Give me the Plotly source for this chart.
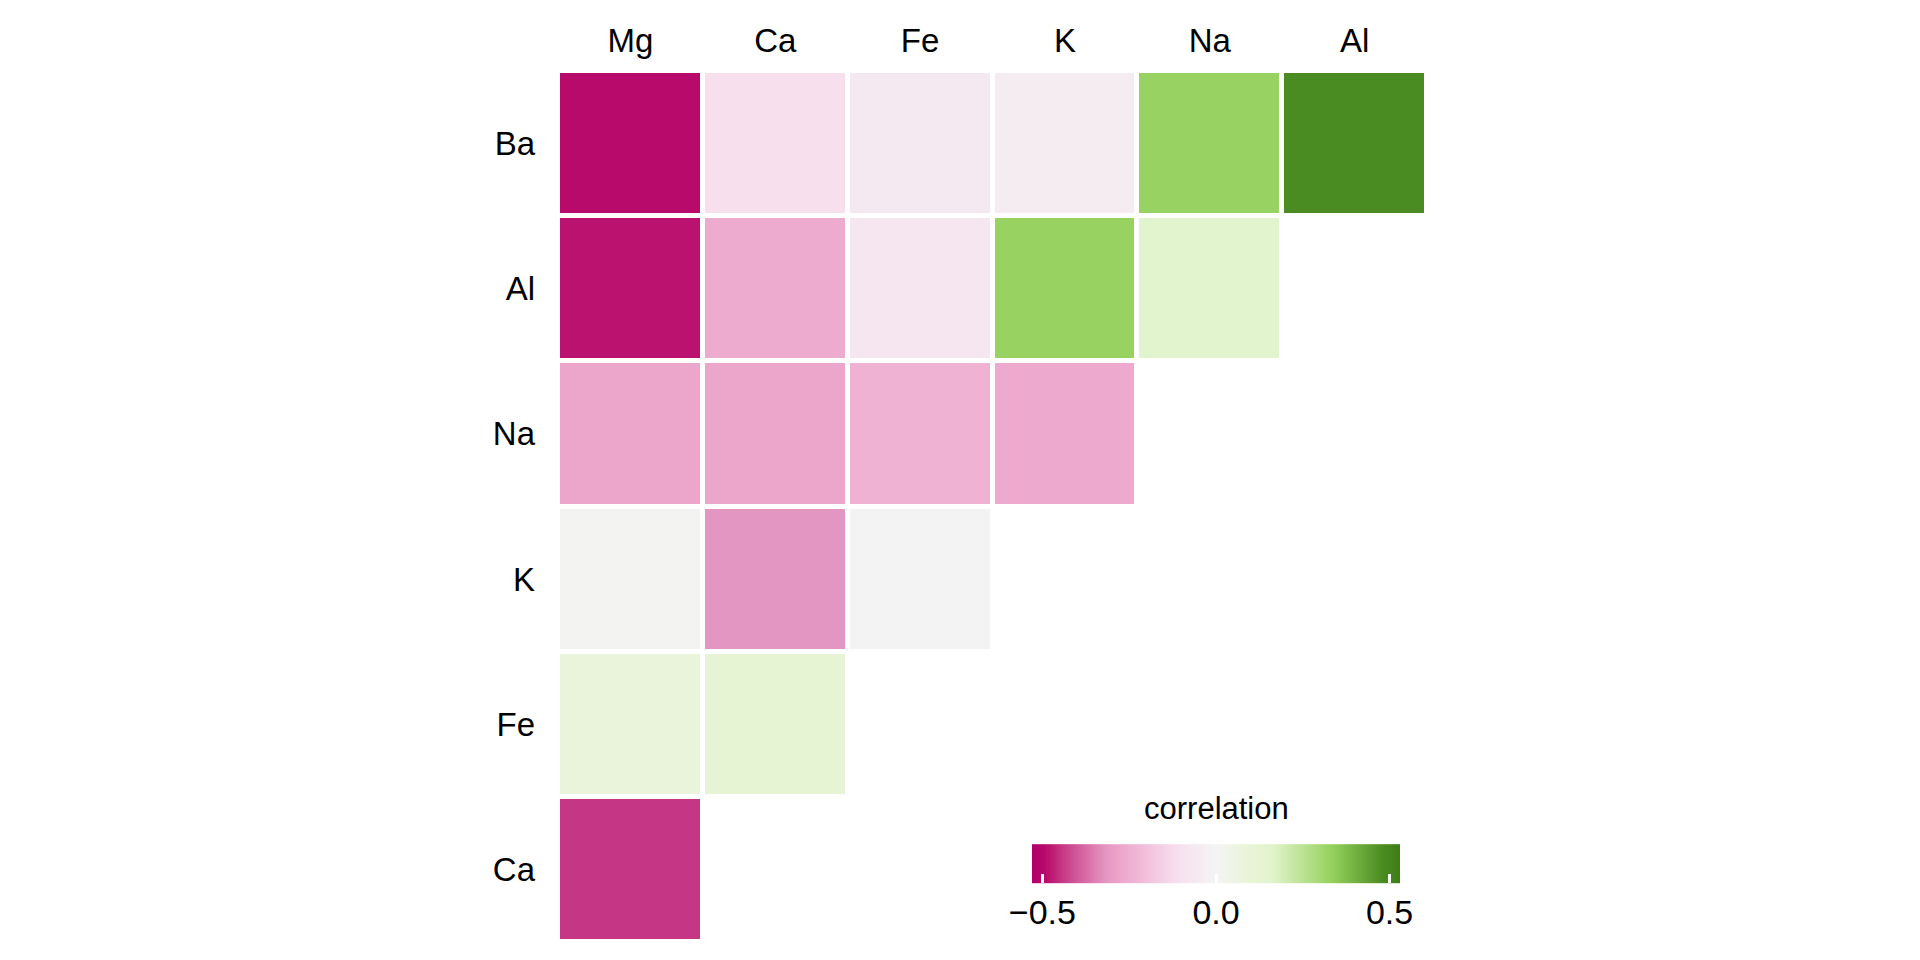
import numpy as np
import plotly.graph_objects as go

# ---- data ----
x_labels = ["Mg", "Ca", "Fe", "K", "Na", "Al"]
y_labels = ["Ba", "Al", "Na", "K", "Fe", "Ca"]
row_Ba = [-0.492, -0.113, -0.059, -0.043, 0.327, 0.479]
row_Al = [-0.482, -0.260, -0.074, 0.326, 0.157, None]
row_Na = [-0.274, -0.275, -0.241, -0.266, None, None]
row_K = [0.006, -0.318, -0.008, None, None, None]
row_Fe = [0.083, 0.125, None, None, None, None]
row_Ca = [-0.444, None, None, None, None, None]
z = [row_Ba, row_Al, row_Na, row_K, row_Fe, row_Ca]
cb_ticks = [-0.5, 0.0, 0.5]
cb_ticktext = ["\u22120.5", "0.0", "0.5"]
legend_title = "correlation"

# ---- colour scale (diverging magenta / green, PiYG-like) ----
ZMIN, ZMAX = -0.53, 0.53
anchors = [(-0.53, "#b0006a"), (-0.49, "#b8096a"), (-0.44, "#c73b86"),
           (-0.32, "#e495c2"), (-0.27, "#eda8cd"), (-0.11, "#f7e0ee"),
           (0.0, "#f4f4f4"), (0.08, "#eaf4db"), (0.16, "#e2f4cd"),
           (0.33, "#97d35f"), (0.48, "#4a8c21"), (0.53, "#3d7d18")]
a_v = np.array([a[0] for a in anchors])
a_rgb = np.array([[int(a[1][i:i + 2], 16) for i in (1, 3, 5)] for a in anchors], float)


def col_at(v):
    r = [np.interp(v, a_v, a_rgb[:, k]) for k in range(3)]
    return "rgb(%d,%d,%d)" % tuple(int(round(c)) for c in r)


stops = np.linspace(0, 1, 61)
colorscale = [[float(p), col_at(ZMIN + p * (ZMAX - ZMIN))] for p in stops]

L, R, T, B = 558, 493, 71, 18
W, H = 1920, 960
pw = W - L - R
ph = H - T - B
FONT = "Liberation Sans, Arial, Helvetica"
CB_CX = 1216  # colourbar centre, px

fig = go.Figure(go.Heatmap(
    z=z, x=x_labels, y=y_labels,
    colorscale=colorscale, zmin=ZMIN, zmax=ZMAX,
    xgap=5, ygap=5, hoverongaps=False,
    colorbar=dict(
        orientation="h",
        lenmode="pixels", len=368, xpad=0, ypad=0,
        thickness=39, thicknessmode="pixels",
        x=(CB_CX - L) / pw, xanchor="center",
        y=(H - B - 941) / ph, yanchor="bottom",
        outlinewidth=0,
        tickvals=cb_ticks, ticktext=cb_ticktext,
        ticks="inside", ticklen=9, tickwidth=3, tickcolor="white",
        tickfont=dict(size=34, color="black", family=FONT),
    ),
))

fig.add_annotation(
    text=legend_title, showarrow=False,
    xref="paper", yref="paper",
    x=(CB_CX - L) / pw, xanchor="center",
    y=(H - B - 808) / ph, yanchor="middle",
    font=dict(size=31, color="black", family=FONT),
)

fig.update_layout(
    width=W, height=H, autosize=False,
    margin=dict(l=L, r=R, t=T, b=B, pad=0, autoexpand=False),
    paper_bgcolor="white", plot_bgcolor="white",
    font=dict(family=FONT, size=33, color="black"),
    xaxis=dict(side="top", showgrid=False, zeroline=False, showline=False,
               ticks="", tickfont=dict(size=33, color="black"), ticklabelstandoff=11),
    yaxis=dict(autorange="reversed", showgrid=False, zeroline=False, showline=False,
               ticks="", tickfont=dict(size=33, color="black"), ticklabelstandoff=22),
)

fig.write_html("out.html")
